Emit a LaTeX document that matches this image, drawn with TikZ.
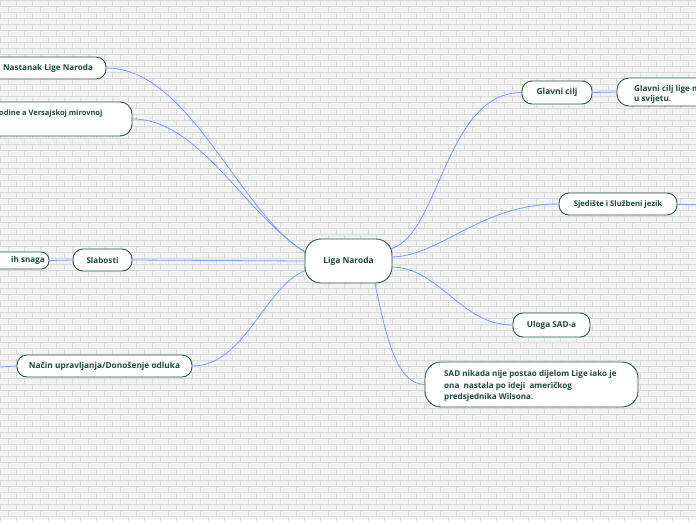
\documentclass[tikz,border=0pt]{standalone}
\usepackage{fontspec}
\setmainfont{Open Sans}
\usetikzlibrary{calc}
\definecolor{brick}{HTML}{F2F2F2}
\definecolor{mortar}{HTML}{D9D9D9}
\definecolor{nodeline}{HTML}{2B5A48}
\definecolor{nodetext}{HTML}{1B4A39}
\definecolor{conncol}{HTML}{7B9CF0}
\pgfdeclarelayer{bricks}
\pgfdeclarelayer{links}
\pgfsetlayers{bricks,links,main}
\newcommand{\fs}[1]{\fontsize{#1}{10}\selectfont\bfseries}
\tikzset{
  box/.style={draw=nodeline, line width=0.9pt, fill=white, rounded corners=10pt,
    inner sep=0pt, text=nodetext, font=\fs{8.1}},
  lbl/.style={inner sep=0pt, text=nodetext, align=left, font=\fs{8.1}},
  link/.style={draw=conncol, line width=0.8pt},
  brickline/.style={draw=mortar, line width=0.8pt},
}
\begin{document}
\begin{tikzpicture}[x=1pt,y=-1pt]
\useasboundingbox (0,0) rectangle (696,520);
\clip (0,0) rectangle (696,520);
\begin{pgfonlayer}{bricks}
  \clip (0,0) rectangle (696,520);
  \fill[brick] (0,0) rectangle (696,520);
  \draw[brickline] \foreach \r in {0,...,87} {(0,\r*6) -- (696,\r*6)};
  \draw[brickline] \foreach \r in {0,2,...,86} {\foreach \c in {0,...,43} {(\c*16,\r*6) -- ++(0,6)}};
  \draw[brickline] \foreach \r in {1,3,...,85} {\foreach \c in {0,...,43} {(\c*16+8,\r*6) -- ++(0,6)}};
\end{pgfonlayer}

% nodes
\node[box, minimum width=87pt, minimum height=44pt, rounded corners=16pt, font=\fs{8.4}] (liga) at (348.5,261) {Liga Naroda};
\node[box, minimum width=116pt, minimum height=22pt] (nast) at (48,68) {Nastanak Lige Naroda};
\node[box, minimum width=160pt, minimum height=34pt, rounded corners=12pt] (vers) at (52,119) {};
\node[lbl, anchor=west, font=\fs{7.5}] (verst) at (-1,114) {odine a Versajskoj mirovnoj};
\node[box, minimum width=70pt, minimum height=23pt, font=\fs{8.4}] (glav) at (557,92.5) {Glavni cilj};
\node[box, minimum width=160pt, minimum height=28pt, rounded corners=12pt] (glavl) at (697,92) {};
\node[lbl, anchor=north west] (glavlt) at (634,85) {Glavni cilj lige m\\u svijetu.};
\node[box, minimum width=118pt, minimum height=22pt, font=\fs{7.7}] (sjed) at (618,204) {Sjedište i Službeni jezik};
\node[box, minimum width=59pt, minimum height=22pt] (slab) at (102.5,260) {Slabosti};
\node[box, minimum width=110pt, minimum height=17pt, rounded corners=8pt] (snaga) at (-6,260.5) {};
\node[lbl, anchor=east] (snagat) at (45,260.5) {ih snaga};
\node[box, minimum width=175pt, minimum height=22pt, font=\fs{8.3}] (nacin) at (104.5,366) {Način upravljanja/Donošenje odluka};
\node[box, minimum width=77pt, minimum height=24pt, font=\fs{8.2}] (uloga) at (551.5,325) {Uloga SAD-a};
\node[box, minimum width=213pt, minimum height=45pt, rounded corners=16pt] (sad) at (531.5,384.5) {};
\node[lbl, anchor=north west, font=\fontsize{8.1}{11.5}\selectfont\bfseries] (sadt) at (444,370.5)
  {SAD nikada nije postao dijelom Lige iako je\\ona\ \ nastala po ideji\ \ američkog\\predsjednika Wilsona.};
\coordinate (redge) at (696,204);
\coordinate (ledge) at (0,367);

% connectors
\begin{pgfonlayer}{links}
  \clip (0,0) rectangle (696,520);
  \draw[link] (nast.east) .. controls (190,68) and (240,215) .. ($(liga.west)+(2,-8)$);
  \draw[link] (vers.east) .. controls (200,119) and (245,215) .. ($(liga.west)+(2,-8)$);
  \draw[link] (slab.east) -- (liga.west);
  \draw[link] (nacin.east) .. controls (245,366) and (265,285) .. ($(liga.west)+(2,9)$);
  \draw[link] ($(liga.east)+(-2,-12)$) .. controls (440,235) and (445,92.5) .. (glav.west);
  \draw[link] ($(liga.east)+(-2,-4)$) .. controls (440,257) and (480,204) .. (sjed.west);
  \draw[link] ($(liga.east)+(-2,6)$) .. controls (440,267) and (460,325) .. (uloga.west);
  \draw[link] ($(liga.south)+(26,-2)$) .. controls (385,330) and (395,384.5) .. (sad.west);
  \draw[link] (glav.east) -- (glavl.west);
  \draw[link] (sjed.east) -- (redge);
  \draw[link] (nacin.west) -- (ledge);
  \draw[link] (slab.west) -- (snaga.east);
\end{pgfonlayer}
\end{tikzpicture}
\end{document}
